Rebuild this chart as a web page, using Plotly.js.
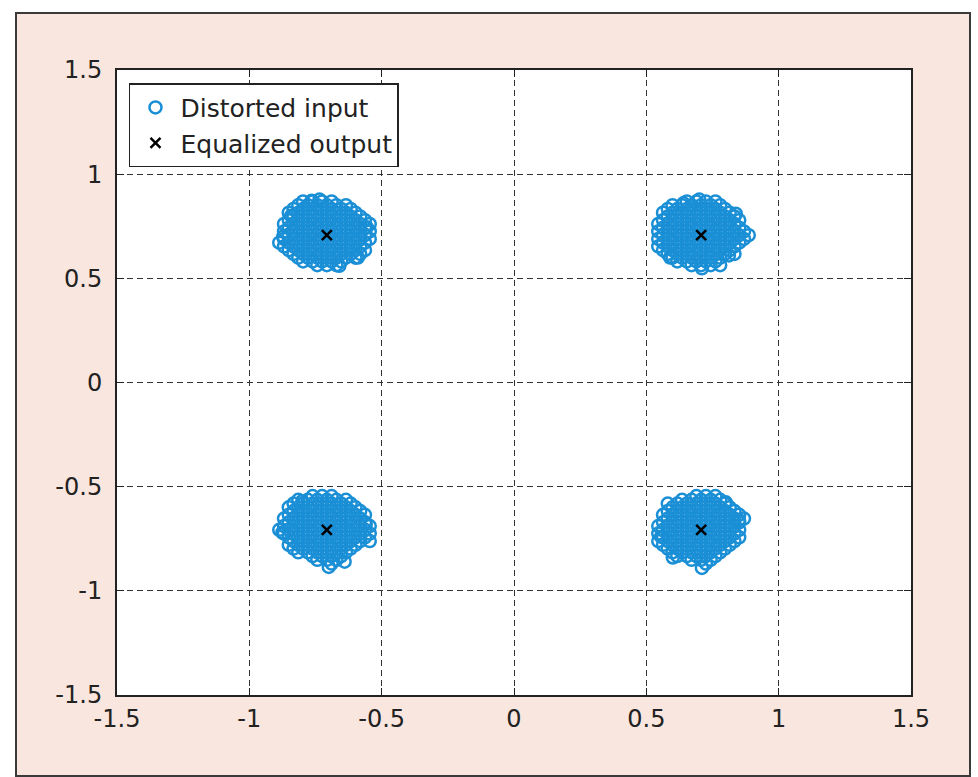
<!DOCTYPE html>
<html>
<head>
<meta charset="utf-8">
<script src="https://cdn.plot.ly/plotly-3.0.1.min.js"></script>
<style>
  html, body { margin: 0; padding: 0; background: #ffffff; }
  #frame { position: absolute; left: 15px; top: 12px; width: 952px; height: 761px;
           border: 2px solid #3a3a3a; background: #f9e6de; }
  #chart { width: 952px; height: 761px; }
</style>
</head>
<body>
<div id="frame"><div id="chart"></div></div>
<script>
// ---- Data ----
const tickVals = [-1.5, -1, -0.5, 0, 0.5, 1, 1.5];
const tickText = ['-1.5', '-1', '-0.5', '0', '0.5', '1', '1.5'];

const seriesNames = ['Distorted input', 'Equalized output'];

// Cluster around (-0.707, 0.707): one y per row, with the x values of that row
const tlRowY = [0.869, 0.851, 0.833, 0.815, 0.797, 0.779, 0.761, 0.743, 0.725, 0.707, 0.689, 0.671, 0.653, 0.635, 0.617, 0.599, 0.581, 0.563];
const tlRowX = [
  [-0.797, -0.761, -0.725, -0.689],
  [-0.815, -0.779, -0.743, -0.707, -0.671, -0.635],
  [-0.833, -0.797, -0.761, -0.725, -0.689, -0.653, -0.617],
  [-0.851, -0.815, -0.779, -0.743, -0.707, -0.671, -0.635, -0.599],
  [-0.833, -0.797, -0.761, -0.725, -0.689, -0.653, -0.617, -0.581],
  [-0.851, -0.815, -0.779, -0.743, -0.707, -0.671, -0.635, -0.599, -0.563],
  [-0.869, -0.833, -0.797, -0.761, -0.725, -0.689, -0.653, -0.617, -0.581, -0.545],
  [-0.851, -0.815, -0.779, -0.743, -0.707, -0.671, -0.635, -0.599, -0.563],
  [-0.869, -0.833, -0.797, -0.761, -0.725, -0.689, -0.653, -0.617, -0.581, -0.545],
  [-0.851, -0.815, -0.779, -0.743, -0.707, -0.671, -0.635, -0.599, -0.563],
  [-0.869, -0.833, -0.797, -0.761, -0.725, -0.689, -0.653, -0.617, -0.581, -0.545],
  [-0.887, -0.851, -0.815, -0.779, -0.743, -0.707, -0.671, -0.635, -0.599, -0.563],
  [-0.869, -0.833, -0.797, -0.761, -0.725, -0.689, -0.653, -0.617, -0.581],
  [-0.851, -0.815, -0.779, -0.743, -0.707, -0.671, -0.635, -0.599, -0.563],
  [-0.833, -0.797, -0.761, -0.725, -0.689, -0.653, -0.617, -0.581],
  [-0.815, -0.779, -0.743, -0.707, -0.671, -0.635, -0.599],
  [-0.797, -0.761, -0.725, -0.689, -0.653],
  [-0.743, -0.707, -0.671]
];

// Cluster around (0.707, 0.707)
const trRowY = [0.869, 0.851, 0.833, 0.815, 0.797, 0.779, 0.761, 0.743, 0.725, 0.707, 0.689, 0.671, 0.653, 0.635, 0.617, 0.599, 0.581, 0.563];
const trRowX = [
  [0.653, 0.689, 0.725, 0.761],
  [0.599, 0.635, 0.671, 0.707, 0.743, 0.779],
  [0.581, 0.617, 0.653, 0.689, 0.725, 0.761, 0.797],
  [0.563, 0.599, 0.635, 0.671, 0.707, 0.743, 0.779, 0.815],
  [0.581, 0.617, 0.653, 0.689, 0.725, 0.761, 0.797, 0.833],
  [0.563, 0.599, 0.635, 0.671, 0.707, 0.743, 0.779, 0.815, 0.851],
  [0.545, 0.581, 0.617, 0.653, 0.689, 0.725, 0.761, 0.797, 0.833],
  [0.563, 0.599, 0.635, 0.671, 0.707, 0.743, 0.779, 0.815, 0.851],
  [0.545, 0.581, 0.617, 0.653, 0.689, 0.725, 0.761, 0.797, 0.833, 0.869],
  [0.563, 0.599, 0.635, 0.671, 0.707, 0.743, 0.779, 0.815, 0.851, 0.887],
  [0.545, 0.581, 0.617, 0.653, 0.689, 0.725, 0.761, 0.797, 0.833, 0.869],
  [0.563, 0.599, 0.635, 0.671, 0.707, 0.743, 0.779, 0.815, 0.851],
  [0.545, 0.581, 0.617, 0.653, 0.689, 0.725, 0.761, 0.797, 0.833],
  [0.563, 0.599, 0.635, 0.671, 0.707, 0.743, 0.779, 0.815],
  [0.581, 0.617, 0.653, 0.689, 0.725, 0.761, 0.797, 0.833],
  [0.599, 0.635, 0.671, 0.707, 0.743, 0.779],
  [0.617, 0.653, 0.689, 0.725, 0.761],
  [0.671, 0.707, 0.743, 0.779]
];

// Cluster around (-0.707, -0.707)
const blRowY = [-0.545, -0.563, -0.581, -0.599, -0.617, -0.635, -0.653, -0.671, -0.689, -0.707, -0.725, -0.743, -0.761, -0.779, -0.797, -0.815, -0.833, -0.851, -0.869];
const blRowX = [
  [-0.761, -0.725, -0.689],
  [-0.815, -0.779, -0.743, -0.707, -0.671, -0.635],
  [-0.833, -0.797, -0.761, -0.725, -0.689, -0.653, -0.617],
  [-0.851, -0.815, -0.779, -0.743, -0.707, -0.671, -0.635, -0.599],
  [-0.833, -0.797, -0.761, -0.725, -0.689, -0.653, -0.617, -0.581],
  [-0.851, -0.815, -0.779, -0.743, -0.707, -0.671, -0.635, -0.599, -0.563],
  [-0.869, -0.833, -0.797, -0.761, -0.725, -0.689, -0.653, -0.617, -0.581],
  [-0.851, -0.815, -0.779, -0.743, -0.707, -0.671, -0.635, -0.599, -0.563],
  [-0.869, -0.833, -0.797, -0.761, -0.725, -0.689, -0.653, -0.617, -0.581, -0.545],
  [-0.887, -0.851, -0.815, -0.779, -0.743, -0.707, -0.671, -0.635, -0.599, -0.563],
  [-0.869, -0.833, -0.797, -0.761, -0.725, -0.689, -0.653, -0.617, -0.581, -0.545],
  [-0.851, -0.815, -0.779, -0.743, -0.707, -0.671, -0.635, -0.599, -0.563],
  [-0.833, -0.797, -0.761, -0.725, -0.689, -0.653, -0.617, -0.581, -0.545],
  [-0.851, -0.815, -0.779, -0.743, -0.707, -0.671, -0.635, -0.599],
  [-0.833, -0.797, -0.761, -0.725, -0.689, -0.653, -0.617],
  [-0.815, -0.779, -0.743, -0.707, -0.671, -0.635],
  [-0.761, -0.725, -0.689, -0.653],
  [-0.743, -0.707, -0.671],
  [-0.689]
];

// Cluster around (0.707, -0.707)
const brRowY = [-0.545, -0.563, -0.581, -0.599, -0.617, -0.635, -0.653, -0.671, -0.689, -0.707, -0.725, -0.743, -0.761, -0.779, -0.797, -0.815, -0.833, -0.851, -0.869];
const brRowX = [
  [0.689, 0.725, 0.761],
  [0.635, 0.671, 0.707, 0.743, 0.779],
  [0.581, 0.617, 0.653, 0.689, 0.725, 0.761, 0.797],
  [0.599, 0.635, 0.671, 0.707, 0.743, 0.779, 0.815],
  [0.581, 0.617, 0.653, 0.689, 0.725, 0.761, 0.797, 0.833],
  [0.563, 0.599, 0.635, 0.671, 0.707, 0.743, 0.779, 0.815, 0.851],
  [0.581, 0.617, 0.653, 0.689, 0.725, 0.761, 0.797, 0.833, 0.869],
  [0.563, 0.599, 0.635, 0.671, 0.707, 0.743, 0.779, 0.815, 0.851],
  [0.545, 0.581, 0.617, 0.653, 0.689, 0.725, 0.761, 0.797, 0.833],
  [0.563, 0.599, 0.635, 0.671, 0.707, 0.743, 0.779, 0.815, 0.851],
  [0.545, 0.581, 0.617, 0.653, 0.689, 0.725, 0.761, 0.797, 0.833],
  [0.563, 0.599, 0.635, 0.671, 0.707, 0.743, 0.779, 0.815, 0.851],
  [0.545, 0.581, 0.617, 0.653, 0.689, 0.725, 0.761, 0.797, 0.833],
  [0.563, 0.599, 0.635, 0.671, 0.707, 0.743, 0.779, 0.815],
  [0.581, 0.617, 0.653, 0.689, 0.725, 0.761, 0.797],
  [0.599, 0.635, 0.671, 0.707, 0.743, 0.779],
  [0.617, 0.653, 0.689, 0.725, 0.761],
  [0.671, 0.707, 0.743],
  [0.725]
];

// Stray edge points that give the clusters their bumpy outline
const edgeX = [-0.735, -0.765, -0.556, -0.842, -0.872, -0.660, -0.590,
               0.700, 0.640, 0.838, 0.812, 0.710, 0.590,
               -0.700, -0.560, -0.875, -0.640, -0.800,
               0.710, 0.556, 0.850, 0.600, 0.800];
const edgeY = [0.878, 0.872, 0.745, 0.800, 0.700, 0.560, 0.600,
               0.878, 0.860, 0.810, 0.610, 0.548, 0.600,
               -0.885, -0.680, -0.720, -0.860, -0.570,
               -0.890, -0.740, -0.660, -0.840, -0.575];

// Equalized output: the four ideal constellation points
const eqX = [-0.7071, 0.7071, -0.7071, 0.7071];
const eqY = [0.7071, 0.7071, -0.7071, -0.7071];

// ---- Build the scatter arrays from the rows ----
const inX = [], inY = [];
[[tlRowY, tlRowX], [trRowY, trRowX], [blRowY, blRowX], [brRowY, brRowX]].forEach(([ys, xs]) => {
  ys.forEach((yv, i) => xs[i].forEach(xv => { inX.push(xv); inY.push(yv); }));
});
edgeX.forEach((xv, i) => { inX.push(xv); inY.push(edgeY[i]); });

const FONT = 'DejaVu Sans, Arial, sans-serif';
const INK = '#222222';
const BLUE = '#1a8fd6';

const traces = [
  {
    type: 'scatter', mode: 'markers', name: seriesNames[0],
    x: inX, y: inY,
    marker: { symbol: 'circle-open', size: 12, color: BLUE, line: { color: BLUE, width: 2.5 } },
    hoverinfo: 'x+y'
  },
  {
    type: 'scatter', mode: 'markers', name: seriesNames[1],
    x: eqX, y: eqY,
    marker: { symbol: 'x-thin', size: 10, color: '#000000', line: { color: '#000000', width: 2.5 } },
    hoverinfo: 'x+y'
  }
];

function axis() {
  return {
    range: [-1.5, 1.5],
    tickmode: 'array', tickvals: tickVals, ticktext: tickText,
    showgrid: true, gridcolor: '#333333', gridwidth: 1, griddash: '6px,4px',
    zeroline: false,
    showline: true, linecolor: INK, linewidth: 2, mirror: 'ticks',
    ticks: 'inside', ticklen: 7, tickwidth: 1, tickcolor: INK,
    tickfont: { family: FONT, size: 24, color: INK },
    fixedrange: true
  };
}

const layout = {
  width: 952, height: 761,
  margin: { l: 100, r: 58, t: 56, b: 80, pad: 0 },
  paper_bgcolor: '#f9e6de',
  plot_bgcolor: '#ffffff',
  showlegend: true,
  legend: {
    x: 0.0151, y: 0.979, xanchor: 'left', yanchor: 'top',
    bgcolor: '#ffffff', bordercolor: INK, borderwidth: 1.5,
    font: { family: FONT, size: 25, color: INK },
    itemwidth: 40, tracegroupgap: 0
  },
  xaxis: Object.assign(axis(), { ticklabelstandoff: 1 }),
  yaxis: Object.assign(axis(), { ticklabelstandoff: 8 })
};

Plotly.newPlot('chart', traces, layout, { staticPlot: true, displayModeBar: false });
</script>
</body>
</html>
